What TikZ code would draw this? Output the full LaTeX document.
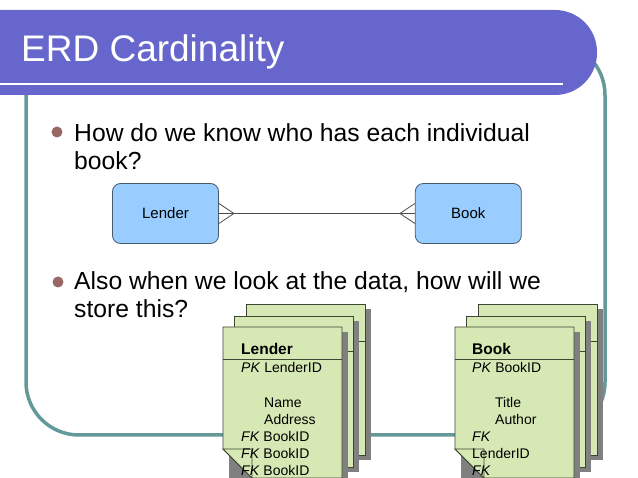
\documentclass[tikz,border=0pt]{standalone}
\usepackage{fontspec}
\setmainfont{Liberation Sans}
\usepackage{tikz}
\usetikzlibrary{positioning}
\definecolor{titlepurple}{RGB}{102,102,204}
\definecolor{frameteal}{RGB}{99,153,153}
\definecolor{bulletred}{RGB}{153,102,102}
\definecolor{entityblue}{RGB}{153,204,255}
\definecolor{entityedge}{RGB}{70,90,110}
\definecolor{pagegreen}{RGB}{214,232,180}
\definecolor{pageedge}{RGB}{60,70,50}
\definecolor{shadowgray}{RGB}{128,128,128}

\begin{document}
\begin{tikzpicture}[x=1pt, y=-1pt]
\tikzstyle{frame}=[draw=frameteal, line width=3.5pt, rounded corners=53pt]
\tikzstyle{bullet}=[circle, fill=bulletred, inner sep=0pt, minimum size=11pt]
\tikzstyle{bodytext}=[anchor=base west, inner sep=0pt, font=\fontsize{24.7}{28}\selectfont]
\tikzstyle{entity}=[draw=entityedge, fill=entityblue, line width=0.8pt, rounded corners=8pt, minimum width=106pt, minimum height=60pt, font=\fontsize{15}{18}\selectfont]
\tikzstyle{relline}=[draw=black!70, line width=0.8pt]
\tikzstyle{page}=[draw=pageedge, fill=pagegreen, line width=0.8pt]
\tikzstyle{pageline}=[draw=pageedge, line width=0.8pt]
\tikzstyle{pageshadow}=[fill=shadowgray]
\tikzstyle{rowtext}=[anchor=base west, inner sep=0pt, font=\fontsize{14}{17}\selectfont]
\tikzstyle{rowhead}=[anchor=base west, inner sep=0pt, font=\fontsize{15.5}{17}\selectfont\bfseries]

\useasboundingbox (0,0) rectangle (638,478);
\clip (0,0) rectangle (638,478);

% slide frame and title bar
\draw[frame] (26,42) rectangle (605,435);
\fill[titlepurple, rounded corners=42pt] (-60,10) rectangle (597,95);
\draw[white, line width=2.5pt] (-5,84) -- (563,84);
\node[anchor=base west, inner sep=0pt, text=white, font=\fontsize{37}{44}\selectfont] (title) at (21,62) {ERD Cardinality};

% bullets
\node[bullet] (b1) at (57,132) {};
\node[bodytext] (q1a) at (74,142) {How do we know who has each individual};
\node[bodytext] (q1b) at (74,170) {book?};
\node[bullet] (b2) at (58,282) {};
\node[bodytext] (q2a) at (74,290) {Also when we look at the data, how will we};
\node[bodytext] (q2b) at (74,318) {store this?};

% entities
\node[entity] (lender) at (165.5,213.5) {Lender};
\node[entity] (book) [right=196pt of lender] {Book};
\coordinate[right=15pt of lender] (lfoot);
\coordinate[left=15pt of book] (bfoot);
\draw[relline] (lender) -- (book);
\draw[relline] ([yshift=10pt]lender.east) -- (lfoot) -- ([yshift=-10pt]lender.east);
\draw[relline] ([yshift=10pt]book.west) -- (bfoot) -- ([yshift=-10pt]book.west);

% table stacks
\foreach \sx in {223,455} {
  \foreach \d/\hl in {23/37,11/35} {
    \fill[pageshadow] (\sx+\d+6,327-\d+5) rectangle ++(119,151);
    \draw[page] (\sx+\d,327-\d) rectangle ++(119,151);
    \draw[pageline] (\sx+\d,327-\d+\hl) -- ++(119,0);
  }
  \fill[pageshadow] (\sx+6,332) rectangle ++(119,151);
  \draw[page] (\sx,327) -- (\sx+119,327) -- (\sx+119,478) -- (\sx+29,478) -- (\sx,449) -- cycle;
  \draw[page] (\sx,449) -- (\sx+29,449) -- (\sx+29,478) -- cycle;
  \draw[pageline] (\sx,359) -- ++(119,0);
}

% lender table
\node[rowhead] (lhead) at (241,355) {Lender};
\node[rowtext] (lpk) at (241,373) {\textit{PK} LenderID};
\node[rowtext] (lname) at (264,408) {Name};
\node[rowtext] (laddr) at (264,425) {Address};
\node[rowtext] (lfk1) at (241,442) {\textit{FK} BookID};
\node[rowtext] (lfk2) at (241,459) {\textit{FK} BookID};
\node[rowtext] (lfk3) at (241,476) {\textit{FK} BookID};

% book table
\node[rowhead] (bhead) at (472,355) {Book};
\node[rowtext] (bpk) at (472,373) {\textit{PK} BookID};
\node[rowtext] (btitle) at (495,408) {Title};
\node[rowtext] (bauth) at (495,425) {Author};
\node[rowtext] (bfk1) at (472,442) {\textit{FK}};
\node[rowtext] (blend) at (472,459) {LenderID};
\node[rowtext] (bfk2) at (472,476) {\textit{FK}};
\end{tikzpicture}
\end{document}
